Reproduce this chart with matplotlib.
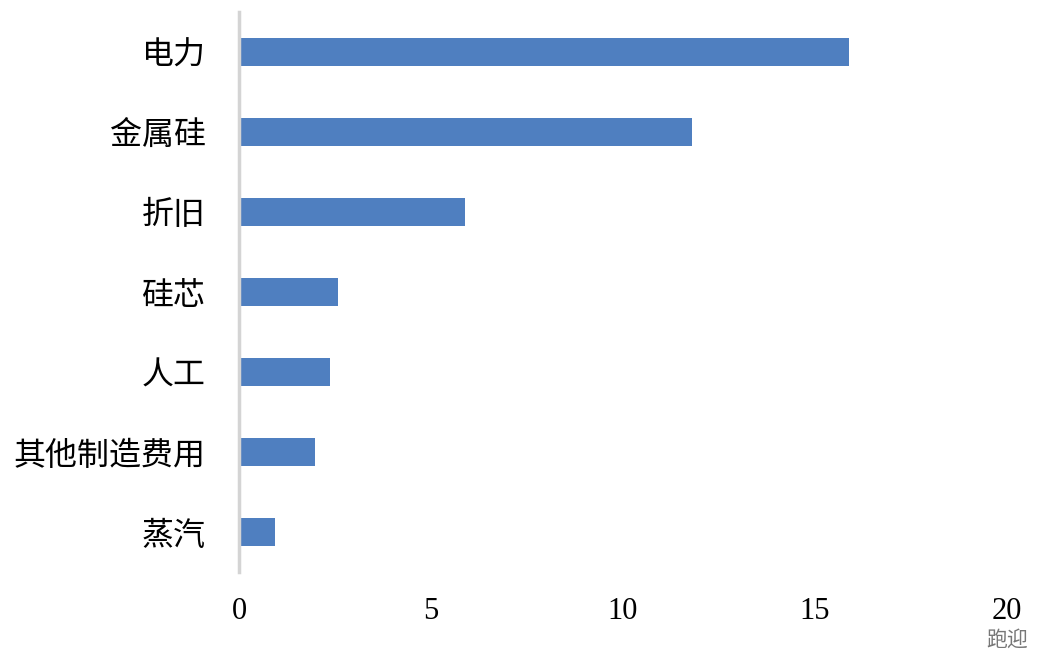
import numpy as np
import matplotlib
matplotlib.use('Agg')
import matplotlib.pyplot as plt

plt.rcParams['font.family'] = ['Noto Sans CJK SC', 'DejaVu Sans']

# cost items and values
categories = ['电力', '金属硅', '折旧', '硅芯', '人工', '其他制造费用', '蒸汽']
values = [15.9, 11.8, 5.9, 2.58, 2.37, 1.98, 0.94]
xticks = [0, 5, 10, 15, 20]

fig = plt.figure(figsize=(10.62, 6.54), dpi=100)
ax = fig.add_axes([0.225, 0.125, 0.723, 0.857])

y = np.arange(len(categories))
ax.barh(y, values, height=0.35, color='#4f7fc0')

ax.set_ylim(len(categories) - 0.5, -0.5)
ax.set_xlim(0, 20)
ax.set_yticks(y)
ax.set_yticklabels(categories, fontsize=23)
ax.set_xticks(xticks)
ax.set_xticklabels([str(t) for t in xticks], family='Liberation Serif', fontsize=22)

for s in ['top', 'right', 'bottom']:
    ax.spines[s].set_visible(False)
ax.spines['left'].set_color('#d4d4d4')
ax.spines['left'].set_linewidth(2.5)
ax.tick_params(axis='both', length=0)
ax.tick_params(axis='x', pad=18)
ax.tick_params(axis='y', pad=24)

# watermark, nudged below the "20" label
fig.text(0.968, 0.005, '跑迎', fontsize=15, color='#555555', ha='right', va='bottom', alpha=0.8)

fig.savefig('out.png', dpi=100)
